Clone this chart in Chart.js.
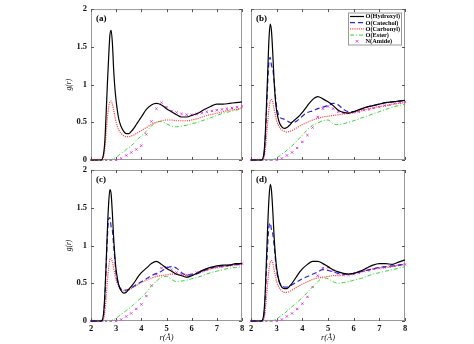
<!DOCTYPE html>
<html>
<head>
<meta charset="utf-8">
<script src="https://cdn.jsdelivr.net/npm/chart.js@4.4.0/dist/chart.umd.min.js"></script>
<style>
  body { margin: 0; background: #fff; }
  #wrap { position: relative; width: 474px; height: 344px; }
  #wrap canvas { position: absolute; left: 0; top: 0; }
</style>
</head>
<body>
<div id="wrap">
  <canvas id="pa" width="474" height="344"></canvas>
  <canvas id="pb" width="474" height="344"></canvas>
  <canvas id="pc" width="474" height="344"></canvas>
  <canvas id="pd" width="474" height="344"></canvas>
</div>
<script>
// r grid (Å) for the lines, and for the amide markers
const R = [2, 2.3, 2.4,
  2.5, 2.55, 2.6, 2.65, 2.7, 2.75, 2.8, 2.85, 2.9, 2.95, 3.0,
  3.1, 3.2, 3.3, 3.4, 3.5, 3.6, 3.7, 3.8, 3.9, 4.0,
  4.2, 4.4, 4.6, 4.8, 5.0, 5.2, 5.4, 5.6, 5.8, 6.0,
  6.25, 6.5, 6.75, 7.0, 7.25, 7.5, 7.75, 8.0];
const RM = [2.0, 2.2, 2.4, 2.6, 2.8, 3.0,
  3.2, 3.4, 3.6, 3.8, 4.0, 4.2, 4.4, 4.6, 4.8, 5.0,
  5.2, 5.4, 5.6, 5.8, 6.0, 6.2, 6.4, 6.6, 6.8, 7.0,
  7.2, 7.4, 7.6, 7.8, 8.0];

const xTicks = [2, 3, 4, 5, 6, 7, 8];
const yTicks = [0, 0.5, 1, 1.5, 2];
const seriesNames = ["O(Hydroxyl)", "O(Catechol)", "O(Carbonyl)", "O(Ester)", "N(Amide)"];

// panel (a)
const hydroxylA = [0,0,0, 0.08,0.25,0.6,1.0,1.35,1.65,1.72,1.55,1.2,0.95,0.78, 0.55,0.44,0.38,0.35,0.35,0.38,0.42,0.47,0.52,0.57, 0.67,0.73,0.75,0.73,0.68,0.64,0.6,0.57,0.57,0.59, 0.62,0.67,0.71,0.74,0.74,0.75,0.76,0.77];
const carbonylA = [0,0,0, 0.05,0.15,0.35,0.55,0.7,0.77,0.78,0.74,0.66,0.58,0.5, 0.4,0.35,0.32,0.31,0.31,0.32,0.33,0.35,0.37,0.39, 0.43,0.47,0.5,0.52,0.53,0.53,0.52,0.52,0.52,0.53, 0.55,0.58,0.6,0.62,0.64,0.66,0.67,0.69];
const esterA = [0,0,0, 0,0,0,0,0,0,0,0.01,0.02,0.03,0.04, 0.06,0.09,0.11,0.14,0.16,0.19,0.22,0.26,0.29,0.32, 0.38,0.45,0.5,0.51,0.48,0.45,0.44,0.45,0.46,0.48, 0.5,0.53,0.56,0.59,0.62,0.64,0.66,0.68];
const amideA = [0,0,0,0,0,0,
  0.02,0.06,0.1,0.14,0.19,0.34,0.51,0.68,0.76,0.7,
  0.65,0.63,0.61,0.6,0.6,0.61,0.62,0.64,0.65,0.66,
  0.67,0.68,0.69,0.7,0.71];

// panel (b)
const hydroxylB = [0,0,0, 0.08,0.3,0.7,1.15,1.6,1.8,1.7,1.4,1.05,0.8,0.65, 0.5,0.44,0.42,0.43,0.46,0.5,0.53,0.56,0.59,0.63, 0.72,0.8,0.84,0.81,0.77,0.72,0.66,0.63,0.62,0.64, 0.67,0.7,0.72,0.74,0.76,0.77,0.78,0.79];
const catecholB = [0,0,0, 0.05,0.25,0.6,1.0,1.3,1.36,1.25,1.2,1.05,0.85,0.7, 0.58,0.55,0.54,0.52,0.5,0.49,0.5,0.52,0.55,0.58, 0.63,0.65,0.68,0.7,0.72,0.75,0.73,0.67,0.64,0.64, 0.67,0.7,0.72,0.74,0.76,0.77,0.78,0.79];
const carbonylB = [0,0,0, 0.03,0.12,0.3,0.5,0.68,0.78,0.8,0.76,0.68,0.6,0.52, 0.44,0.4,0.38,0.37,0.38,0.39,0.41,0.43,0.45,0.47, 0.5,0.53,0.55,0.57,0.58,0.59,0.6,0.61,0.62,0.63, 0.65,0.67,0.69,0.71,0.72,0.74,0.75,0.76];
const esterB = [0,0,0, 0,0,0,0,0,0,0,0.01,0.02,0.02,0.03, 0.05,0.08,0.1,0.13,0.16,0.19,0.22,0.26,0.29,0.33, 0.4,0.46,0.49,0.52,0.53,0.48,0.47,0.48,0.5,0.52, 0.55,0.58,0.61,0.64,0.67,0.7,0.72,0.74];
const amideB = [0,0,0,0,0,0,
  0.02,0.06,0.1,0.16,0.24,0.33,0.43,0.57,0.68,0.71,
  0.68,0.64,0.62,0.62,0.63,0.64,0.66,0.67,0.69,0.7,
  0.72,0.73,0.75,0.76,0.77];

// panel (c)
const hydroxylC = [0,0,0, 0.1,0.35,0.75,1.2,1.55,1.74,1.68,1.42,1.1,0.85,0.67, 0.48,0.4,0.37,0.38,0.42,0.46,0.5,0.55,0.6,0.64, 0.7,0.76,0.79,0.75,0.7,0.66,0.62,0.6,0.58,0.6, 0.64,0.68,0.71,0.73,0.74,0.74,0.76,0.76];
const catecholC = [0,0,0, 0.08,0.3,0.7,1.1,1.35,1.37,1.25,1.2,1.0,0.8,0.62, 0.47,0.42,0.41,0.41,0.42,0.44,0.46,0.48,0.5,0.52, 0.56,0.6,0.63,0.66,0.7,0.72,0.7,0.64,0.61,0.61, 0.63,0.67,0.7,0.72,0.73,0.74,0.75,0.75];
const carbonylC = [0,0,0, 0.03,0.12,0.3,0.52,0.7,0.81,0.83,0.78,0.7,0.62,0.54, 0.46,0.42,0.4,0.4,0.41,0.43,0.45,0.47,0.49,0.51, 0.54,0.57,0.59,0.6,0.61,0.62,0.62,0.61,0.6,0.61, 0.63,0.66,0.69,0.71,0.72,0.73,0.74,0.75];
const esterC = [0,0,0, 0,0,0,0,0,0,0,0.01,0.02,0.03,0.04, 0.06,0.09,0.11,0.14,0.16,0.19,0.22,0.25,0.28,0.31, 0.38,0.46,0.53,0.58,0.59,0.55,0.52,0.53,0.54,0.56, 0.58,0.61,0.64,0.66,0.68,0.7,0.71,0.72];
const amideC = [0,0,0,0,0,0,
  0.02,0.06,0.1,0.16,0.22,0.33,0.47,0.62,0.7,0.71,
  0.68,0.64,0.62,0.61,0.62,0.64,0.66,0.68,0.7,0.71,
  0.72,0.73,0.74,0.75,0.76];

// panel (d)
const hydroxylD = [0,0,0, 0.1,0.35,0.8,1.25,1.62,1.81,1.72,1.45,1.12,0.87,0.7, 0.52,0.45,0.43,0.43,0.46,0.5,0.55,0.6,0.65,0.69, 0.75,0.79,0.79,0.76,0.72,0.68,0.65,0.63,0.62,0.63, 0.66,0.7,0.74,0.76,0.76,0.75,0.78,0.81];
const catecholD = [0,0,0, 0.07,0.28,0.65,1.0,1.25,1.3,1.2,1.15,1.0,0.82,0.66, 0.52,0.47,0.45,0.45,0.46,0.48,0.5,0.52,0.54,0.56, 0.59,0.62,0.65,0.68,0.67,0.65,0.63,0.62,0.62,0.63, 0.65,0.67,0.69,0.71,0.72,0.73,0.74,0.75];
const carbonylD = [0,0,0, 0.03,0.12,0.3,0.5,0.68,0.78,0.8,0.76,0.68,0.6,0.52, 0.44,0.4,0.38,0.38,0.39,0.41,0.43,0.45,0.47,0.49, 0.52,0.55,0.57,0.58,0.59,0.6,0.6,0.61,0.62,0.63, 0.65,0.67,0.69,0.7,0.71,0.72,0.74,0.75];
const esterD = [0,0,0, 0,0,0,0,0,0,0,0.01,0.02,0.02,0.03, 0.05,0.08,0.1,0.13,0.16,0.19,0.22,0.25,0.28,0.31, 0.38,0.45,0.52,0.57,0.56,0.52,0.5,0.51,0.52,0.54, 0.56,0.59,0.62,0.64,0.66,0.68,0.7,0.72];
const amideD = [0,0,0,0,0,0,
  0.02,0.06,0.1,0.16,0.23,0.32,0.45,0.6,0.7,0.71,
  0.67,0.63,0.61,0.61,0.62,0.64,0.66,0.67,0.69,0.7,
  0.71,0.72,0.73,0.74,0.75];

const SERIF = '"Liberation Serif", "DejaVu Serif", serif';
const W = 474, H = 344;

// line styles for each series
const styles = [
  { borderColor: "#000000", borderWidth: 1.2 },
  { borderColor: "#2828d8", borderWidth: 1.2, borderDash: [5, 3] },
  { borderColor: "#ff4a4a", borderWidth: 1.2, borderDash: [1.2, 1] },
  { borderColor: "#33d633", borderWidth: 1, borderDash: [4, 2, 1, 2] },
  { borderColor: "#e03ae0", pointStyle: "crossRot", radius: 1.6, borderWidth: 1, showLine: false }
];

function pts(xs, ys) {
  return xs.map((x, i) => ({ x: x, y: ys[i] }));
}

// frame, inward ticks, panel tag and legend
const framePlugin = {
  id: "frame",
  beforeDatasetsDraw(chart, args, opts) {
    const { ctx, chartArea: a, scales } = chart;
    ctx.save();
    ctx.strokeStyle = "#9a9a9a";
    ctx.lineWidth = 1;
    ctx.strokeRect(a.left + 0.5, a.top + 0.5, a.right - a.left - 1, a.bottom - a.top - 1);
    ctx.strokeStyle = "#555";
    ctx.beginPath();
    xTicks.forEach(v => {
      const px = Math.round(scales.x.getPixelForValue(v)) + 0.5;
      ctx.moveTo(px, a.bottom); ctx.lineTo(px, a.bottom - 3);
      ctx.moveTo(px, a.top); ctx.lineTo(px, a.top + 3);
    });
    yTicks.forEach(v => {
      const py = Math.round(scales.y.getPixelForValue(v)) + 0.5;
      ctx.moveTo(a.left, py); ctx.lineTo(a.left + 3, py);
      ctx.moveTo(a.right, py); ctx.lineTo(a.right - 3, py);
    });
    ctx.stroke();
    ctx.restore();
  },
  afterDatasetsDraw(chart, args, opts) {
    const { ctx, chartArea: a } = chart;
    ctx.save();
    ctx.fillStyle = "#000";
    ctx.font = "bold 9px " + SERIF;
    ctx.textBaseline = "middle";
    ctx.fillText(opts.tag, a.left + 5, a.top + 10);
    if (opts.legend) {
      const bx = a.right - 57, by = a.top + 3.5, bw = 53, bh = 32;
      ctx.fillStyle = "#fff";
      ctx.fillRect(bx, by, bw, bh);
      ctx.strokeStyle = "#9a9a9a";
      ctx.lineWidth = 1;
      ctx.strokeRect(bx + 0.5, by + 0.5, bw, bh);
      ctx.font = "bold 6.3px " + SERIF;
      chart.data.datasets.forEach((ds, i) => {
        const cy = by + 4 + i * 6.2;
        ctx.strokeStyle = ds.borderColor;
        ctx.lineWidth = ds.borderWidth;
        if (ds.showLine === false) {
          const cx = bx + 9;
          ctx.beginPath();
          ctx.moveTo(cx - 1.2, cy - 1.2); ctx.lineTo(cx + 1.2, cy + 1.2);
          ctx.moveTo(cx - 1.2, cy + 1.2); ctx.lineTo(cx + 1.2, cy - 1.2);
          ctx.stroke();
        } else {
          ctx.setLineDash(ds.borderDash || []);
          ctx.beginPath();
          ctx.moveTo(bx + 2, cy); ctx.lineTo(bx + 16, cy);
          ctx.stroke();
          ctx.setLineDash([]);
        }
        ctx.fillStyle = "#000";
        ctx.fillText(ds.label, bx + 17.5, cy + 0.3);
      });
    }
    ctx.restore();
  }
};

function makePanel(id, tag, box, showY, showX, lines, amide, legend) {
  const yW = showY ? 26 : 0;
  const xH = showX ? 23 : 0;
  const datasets = [];
  lines.forEach((ys, i) => {
    if (!ys) return;
    datasets.push(Object.assign({
      label: seriesNames[i], data: pts(R, ys), pointRadius: 0, fill: false,
      cubicInterpolationMode: "monotone", clip: 4
    }, styles[i]));
  });
  datasets.push({
    label: seriesNames[4], data: pts(RM, amide), showLine: false, clip: 4,
    pointStyle: "crossRot", pointRadius: styles[4].radius, borderColor: styles[4].borderColor,
    backgroundColor: styles[4].borderColor, borderWidth: 1
  });
  const tickFont = { family: SERIF, size: 8.5, weight: "bold" };
  return new Chart(document.getElementById(id), {
    type: "line",
    data: { datasets: datasets },
    plugins: [framePlugin],
    options: {
      responsive: false,
      animation: false,
      events: [],
      layout: { padding: { left: box[0] - yW, top: box[1], right: W - box[2], bottom: H - box[3] - xH } },
      plugins: {
        legend: { display: false },
        tooltip: { enabled: false },
        frame: { tag: tag, legend: legend }
      },
      scales: {
        x: {
          type: "linear", min: 2, max: 8,
          afterBuildTicks: s => { s.ticks = xTicks.map(v => ({ value: v })); },
          afterFit: s => { s.height = xH; },
          grid: { display: false, drawTicks: false },
          border: { display: false },
          ticks: { display: showX, padding: 3, color: "#111", font: tickFont, callback: v => String(v) },
          title: { display: showX, text: "r(Å)", color: "#111", padding: { top: 0, bottom: 1 }, font: { family: SERIF, size: 8.5, style: "italic" } }
        },
        y: {
          min: 0, max: 2,
          afterBuildTicks: s => { s.ticks = yTicks.map(v => ({ value: v })); },
          afterFit: s => { s.width = yW; },
          grid: { display: false, drawTicks: false },
          border: { display: false },
          ticks: { display: showY, padding: 4, color: "#111", font: tickFont, callback: v => String(v) },
          title: { display: showY, text: "g(r)", color: "#111", padding: { top: 0, bottom: 0 }, font: { family: SERIF, size: 7.5, style: "italic" } }
        }
      }
    }
  });
}

makePanel("pa", "(a)", [91, 9, 242, 160], true, false, [hydroxylA, null, carbonylA, esterA], amideA, false);
makePanel("pb", "(b)", [251, 9, 405, 160], false, false, [hydroxylB, catecholB, carbonylB, esterB], amideB, true);
makePanel("pc", "(c)", [91, 170, 242, 321], true, true, [hydroxylC, catecholC, carbonylC, esterC], amideC, false);
makePanel("pd", "(d)", [251, 170, 405, 321], false, true, [hydroxylD, catecholD, carbonylD, esterD], amideD, false);
</script>
</body>
</html>
